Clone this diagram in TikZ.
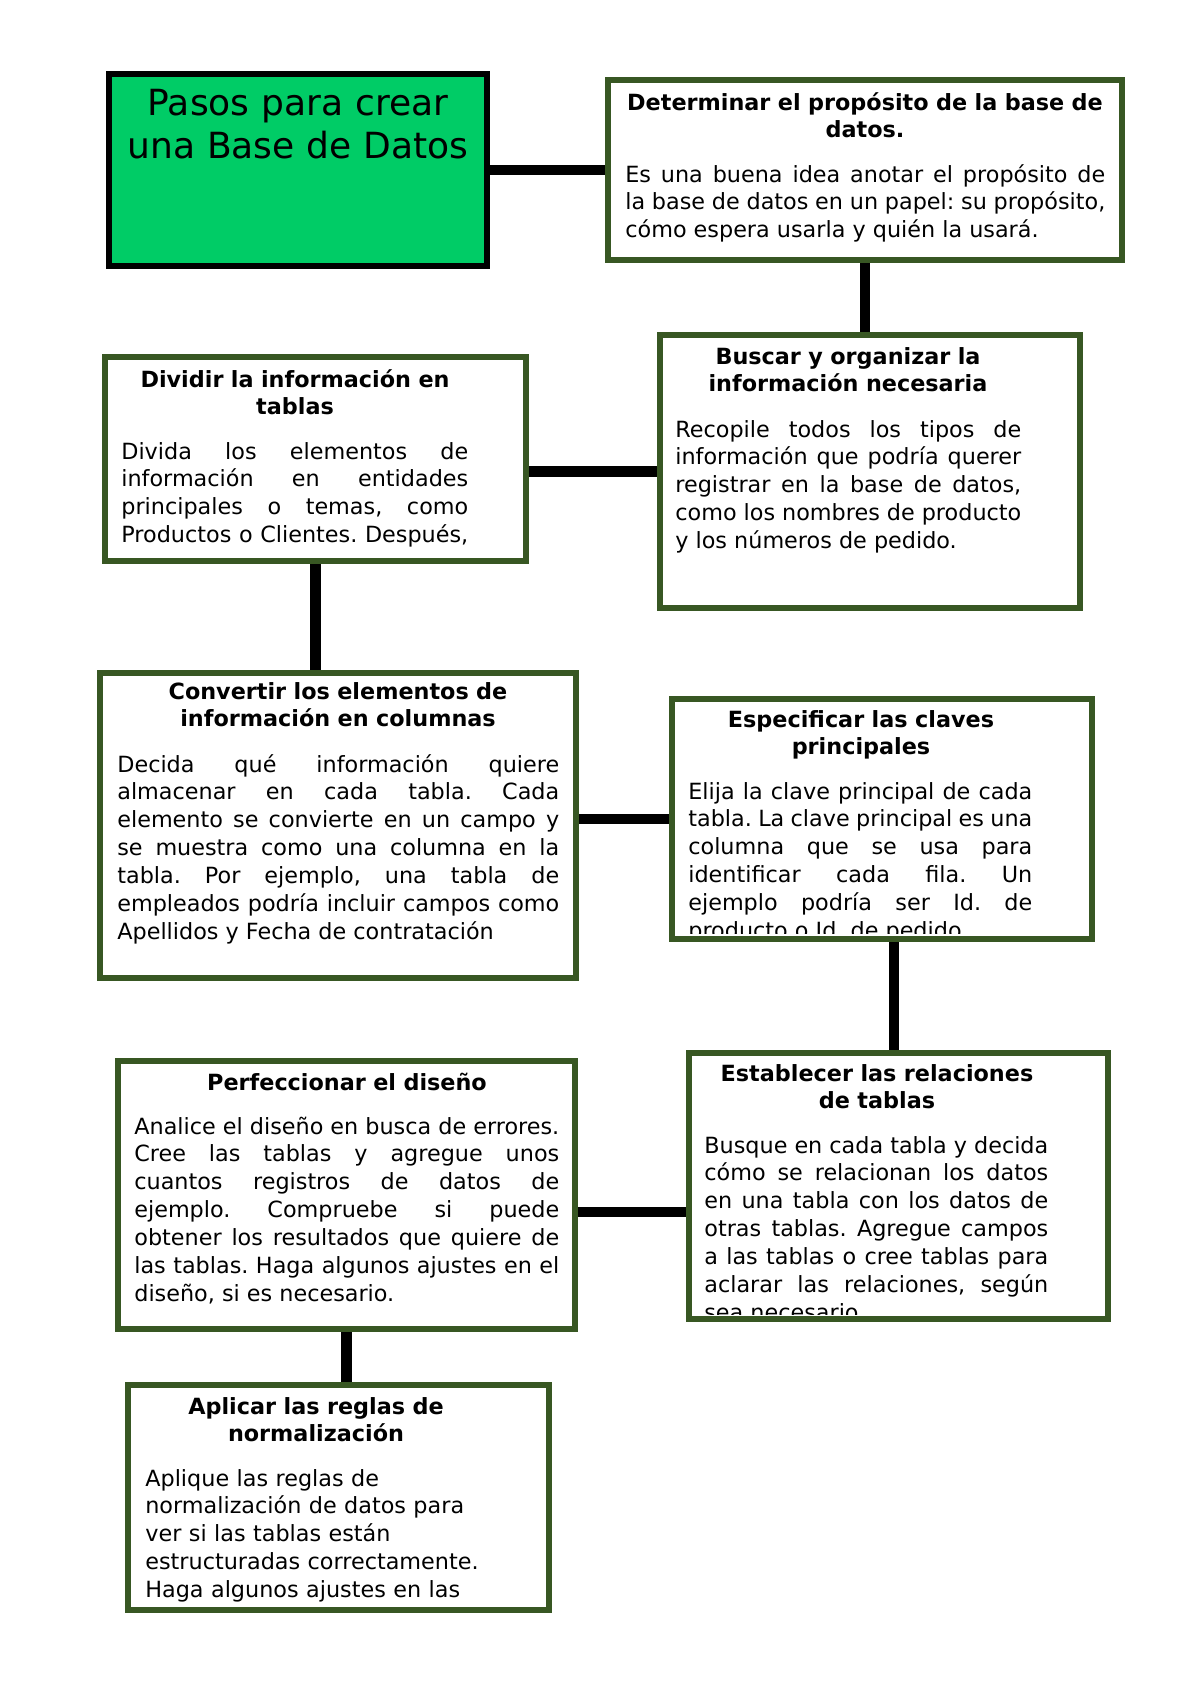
\documentclass[tikz,border=0pt]{standalone}
\usepackage{fontspec}
\setmainfont{DejaVu Sans}
\usetikzlibrary{positioning,backgrounds}
\definecolor{boxgreen}{RGB}{56,87,35}
\definecolor{titlegreen}{RGB}{0,204,102}
\frenchspacing
\tikzset{
    stepbox/.style={draw=boxgreen, fill=white, line width=3.1pt, inner sep=0pt},
    headbox/.style={draw=black, fill=titlegreen, line width=3.1pt, inner sep=0pt},
    head/.style={anchor=base, inner sep=0pt, text width=10cm, align=center, font=\fontsize{12.7}{15.9}\selectfont\bfseries\frenchspacing},
    body/.style={anchor=base west, inner sep=0pt, align=justify, font=\fontsize{12.7}{15.9}\selectfont\frenchspacing},
    link/.style={draw=black, line width=6.2pt}
}

\begin{document}
\begin{tikzpicture}[x=0.02cm, y=-0.02cm]
\useasboundingbox (0,0) rectangle (1200,1698);

% titulo
\node[headbox, minimum width=7.56cm, minimum height=3.84cm] (pasos) at (298,170) {};
\node[anchor=base, inner sep=0pt, text width=7cm, align=center, font=\fontsize{20.5}{25}\selectfont] (pasos-txt) at (298,115) {Pasos para crear\\una Base de Datos};

% cajas
\node[stepbox, minimum width=10.28cm, minimum height=3.6cm] (proposito) at (865,170) {};
\node[head] (proposito-tit) at (865,110) {Determinar el propósito de la base de\\datos.};
\node[body, text width=9.6cm] (proposito-txt) at (625,182) {Es una buena idea anotar el propósito de\linebreak la base de datos en un papel: su propósito,\linebreak cómo espera usarla y quién la usará.};

\node[stepbox, minimum width=8.4cm, minimum height=5.46cm] (buscar) at (870,471.5) {};
\node[head] (buscar-tit) at (848,364) {Buscar y organizar la\\información necesaria};
\node[body, text width=6.92cm] (buscar-txt) at (675,437) {Recopile todos los tipos de\linebreak información que podría querer\linebreak registrar en la base de datos,\linebreak como los nombres de producto\linebreak y los números de pedido.};

\node[stepbox, minimum width=8.42cm, minimum height=4.08cm] (dividir) at (315.5,459) {};
\node[head] (dividir-tit) at (295,387) {Dividir la información en\\tablas};
\node[body, text width=6.94cm] (dividir-txt) at (121,459) {Divida los elementos de\linebreak información en entidades\linebreak principales o temas, como\linebreak Productos o Clientes. Después,\linebreak};

\node[stepbox, minimum width=9.52cm, minimum height=6.1cm] (columnas) at (338,825.5) {};
\node[head] (columnas-tit) at (338,699) {Convertir los elementos de\\información en columnas};
\node[body, text width=8.84cm] (columnas-txt) at (117,772) {Decida qué información quiere\linebreak almacenar en cada tabla. Cada\linebreak elemento se convierte en un campo y\linebreak se muestra como una columna en la\linebreak tabla. Por ejemplo, una tabla de\linebreak empleados podría incluir campos como\linebreak Apellidos y Fecha de contratación};

\node[stepbox, minimum width=8.4cm, minimum height=4.8cm] (claves) at (882,819) {};
\node[head] (claves-tit) at (861,727) {Especificar las claves\\principales};
\begin{scope}
\clip ([shift={(2.8,2.8)}]claves.north west) rectangle ([shift={(-2.8,-8)}]claves.south east);
\node[body, text width=6.88cm] (claves-txt) at (688,799) {Elija la clave principal de cada\linebreak tabla. La clave principal es una\linebreak columna que se usa para\linebreak identificar cada fila. Un\linebreak ejemplo podría ser Id. de\linebreak producto o Id. de pedido.};
\end{scope}

\node[stepbox, minimum width=8.38cm, minimum height=5.32cm] (relaciones) at (898.5,1186) {};
\node[head] (relaciones-tit) at (877,1081) {Establecer las relaciones\\de tablas};
\begin{scope}
\clip ([shift={(2.8,2.8)}]relaciones.north west) rectangle ([shift={(-2.8,-7)}]relaciones.south east);
\node[body, text width=6.88cm] (relaciones-txt) at (704,1153) {Busque en cada tabla y decida\linebreak cómo se relacionan los datos\linebreak en una tabla con los datos de\linebreak otras tablas. Agregue campos\linebreak a las tablas o cree tablas para\linebreak aclarar las relaciones, según\linebreak sea necesario.};
\end{scope}

\node[stepbox, minimum width=9.14cm, minimum height=5.36cm] (diseno) at (346.5,1195) {};
\node[head] (diseno-tit) at (347,1090) {Perfeccionar el diseño};
\node[body, text width=8.5cm] (diseno-txt) at (134,1134) {Analice el diseño en busca de errores.\linebreak Cree las tablas y agregue unos\linebreak cuantos registros de datos de\linebreak ejemplo. Compruebe si puede\linebreak obtener los resultados que quiere de\linebreak las tablas. Haga algunos ajustes en el\linebreak diseño, si es necesario.};

\node[stepbox, minimum width=8.42cm, minimum height=4.5cm] (reglas) at (338.5,1497.5) {};
\node[head] (reglas-tit) at (316,1414) {Aplicar las reglas de\\normalización};
\node[body, text width=7.8cm, align=left] (reglas-txt) at (145,1486) {Aplique las reglas de\\normalización de datos para\\ver si las tablas están\\estructuradas correctamente.\\Haga algunos ajustes en las};

% conectores
\begin{scope}[on background layer]
\draw[link] (pasos.east) -- (proposito.west);
\draw[link] (proposito.south) -- (proposito.south |- buscar.north);
\draw[link] (buscar.west) -- (buscar.west -| dividir.east);
\draw[link] (dividir.south) -- (dividir.south |- columnas.north);
\draw[link] (claves.west) -- (claves.west -| columnas.east);
\draw[link] ([xshift=-0.09cm]relaciones.north) coordinate (r) -- (r |- claves.south);
\draw[link] ([yshift=-0.34cm]diseno.east) coordinate (d) -- (d -| relaciones.west);
\draw[link] (diseno.south) -- (diseno.south |- reglas.north);
\end{scope}
\end{tikzpicture}
\end{document}
